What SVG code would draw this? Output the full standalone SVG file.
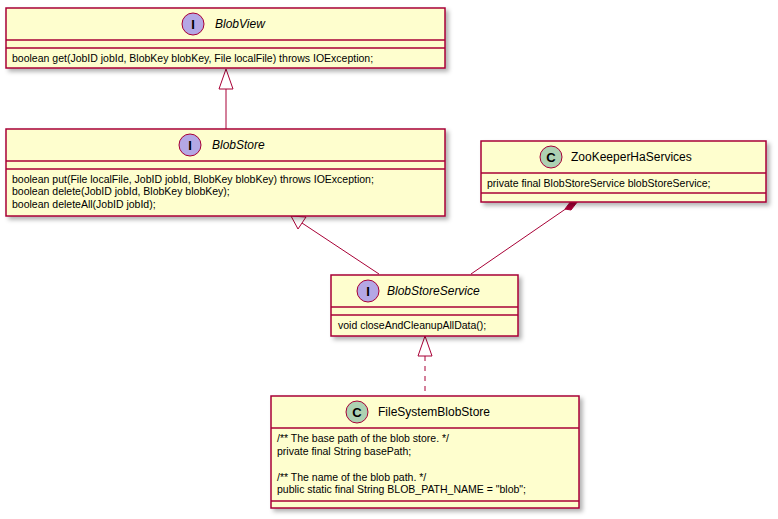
<svg xmlns="http://www.w3.org/2000/svg" width="778" height="519" viewBox="0 0 778 519">
<style>
.box{fill:#FEFECE;stroke:#A80036;stroke-width:1.5;filter:url(#sh)}
.sep{stroke:#A80036;stroke-width:1.5}
.t{font-family:"Liberation Sans",Arial,sans-serif;font-size:12px;fill:#000}
.ti{font-style:italic}
.m{font-family:"Liberation Sans",Arial,sans-serif;font-size:10.5px;fill:#000}
.ci{fill:#B4A7E5;stroke:#A80036;stroke-width:1}
.cc{fill:#ADD1B2;stroke:#A80036;stroke-width:1}
.g{font-family:"Liberation Sans",Arial,sans-serif;font-size:13px;font-weight:bold;fill:#000;text-anchor:middle}
.e{stroke:#A80036;stroke-width:1;fill:none}
</style>
<defs>
<filter id="sh" x="-5%" y="-10%" width="115%" height="130%"><feDropShadow dx="3" dy="3" stdDeviation="2" flood-color="#000" flood-opacity="0.3"/></filter>
</defs>
<g id="connectors">
<line class="e" x1="226" y1="89" x2="226" y2="129"/>
<polygon points="226,69 219,89 233,89" fill="none" stroke="#A80036"/>
<line class="e" x1="379" y1="274" x2="302" y2="223"/>
<polygon points="291,216 298,229 306,217" fill="none" stroke="#A80036"/>
<line class="e" x1="471" y1="274" x2="567" y2="208"/>
<polygon points="578,201 571,201 565,209 571,210" fill="#A80036" stroke="#A80036"/>
<line class="e" x1="425" y1="356" x2="425" y2="396" stroke-dasharray="5,5"/>
<polygon points="425,336 418,356 432,356" fill="none" stroke="#A80036"/>
</g>
<g id="BlobView">
<rect class="box" x="6" y="8" width="439" height="60"/>
<line class="sep" x1="6" y1="40" x2="445" y2="40"/><line class="sep" x1="6" y1="48" x2="445" y2="48"/>
<circle class="ci" cx="193" cy="24" r="11"/><text class="g" x="193" y="29">I</text>
<text class="t ti" x="215" y="28">BlobView</text>
<text class="m" x="12" y="62">boolean get(JobID jobId, BlobKey blobKey, File localFile) throws IOException;</text>
</g>
<g id="BlobStore">
<rect class="box" x="6" y="129" width="439" height="87"/>
<line class="sep" x1="6" y1="161" x2="445" y2="161"/><line class="sep" x1="6" y1="169" x2="445" y2="169"/>
<circle class="ci" cx="190" cy="145" r="11"/><text class="g" x="190" y="150">I</text>
<text class="t ti" x="212" y="149">BlobStore</text>
<text class="m" x="12" y="183">boolean put(File localFile, JobID jobId, BlobKey blobKey) throws IOException;</text>
<text class="m" x="12" y="195">boolean delete(JobID jobId, BlobKey blobKey);</text>
<text class="m" x="12" y="208">boolean deleteAll(JobID jobId);</text>
</g>
<g id="ZooKeeperHaServices">
<rect class="box" x="481" y="141" width="285" height="61"/>
<line class="sep" x1="481" y1="173" x2="766" y2="173"/><line class="sep" x1="481" y1="193" x2="766" y2="193"/>
<circle class="cc" cx="551" cy="157" r="11"/><text class="g" x="551" y="162">C</text>
<text class="t" x="571" y="161">ZooKeeperHaServices</text>
<text class="m" x="487" y="187">private final BlobStoreService blobStoreService;</text>
</g>
<g id="BlobStoreService">
<rect class="box" x="331" y="275" width="187" height="61"/>
<line class="sep" x1="331" y1="307" x2="518" y2="307"/><line class="sep" x1="331" y1="315" x2="518" y2="315"/>
<circle class="ci" cx="368" cy="291" r="11"/><text class="g" x="368" y="296">I</text>
<text class="t ti" x="387" y="295">BlobStoreService</text>
<text class="m" x="338" y="329">void closeAndCleanupAllData();</text>
</g>
<g id="FileSystemBlobStore">
<rect class="box" x="271" y="396" width="308" height="112"/>
<line class="sep" x1="271" y1="428" x2="579" y2="428"/><line class="sep" x1="271" y1="501" x2="579" y2="501"/>
<circle class="cc" cx="357" cy="412" r="11"/><text class="g" x="357" y="417">C</text>
<text class="t" x="378" y="416">FileSystemBlobStore</text>
<text class="m" x="277" y="442">/** The base path of the blob store. */</text>
<text class="m" x="277" y="455">private final String basePath;</text>
<text class="m" x="277" y="481">/** The name of the blob path. */</text>
<text class="m" x="277" y="493">public static final String BLOB_PATH_NAME = "blob";</text>
</g>
</svg>
